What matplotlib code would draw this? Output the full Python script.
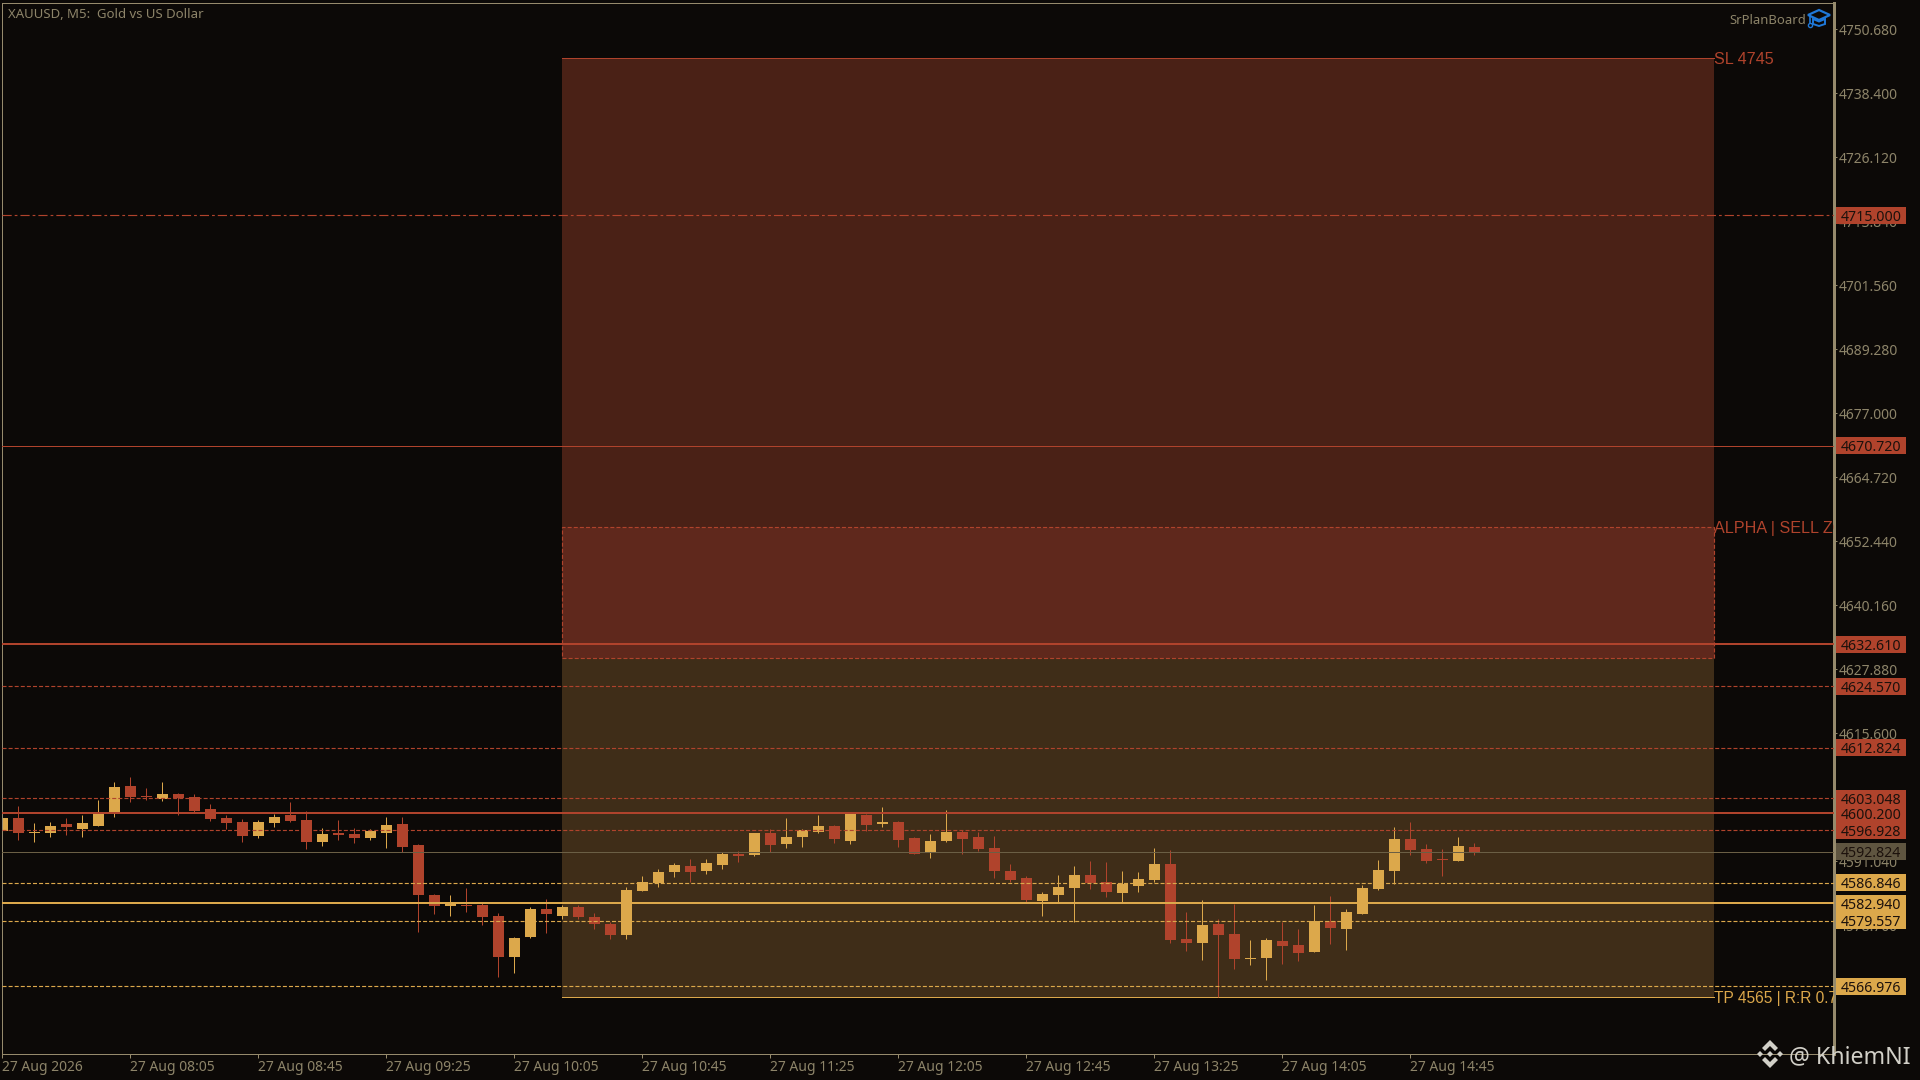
import matplotlib

matplotlib.use("Agg")
import matplotlib.pyplot as plt
from matplotlib.patches import Polygon, Rectangle

BG = "#0c0907"
RED = "#b0432c"
GOLD = "#dca84b"
GREY = "#5f5540"
FRAME = "#968a6c"
TICK_TEXT = "#8d8469"

# candles, oldest first
opens = [
    4596.87, 4599.30, 4596.48, 4596.42, 4598.15, 4597.19, 4597.76, 4600.45, 4605.44, 4603.52,
    4602.94, 4603.90, 4603.33, 4601.02, 4599.30, 4598.53, 4595.84, 4598.34, 4599.87, 4598.91,
    4594.69, 4596.42, 4596.23, 4595.46, 4596.42, 4598.15, 4594.12, 4584.52, 4582.41, 4582.60,
    4582.60, 4580.49, 4572.62, 4576.46, 4581.83, 4580.49, 4582.21, 4580.30, 4578.95, 4576.84,
    4585.29, 4586.82, 4588.93, 4590.08, 4589.12, 4590.28, 4592.39, 4592.20, 4596.42, 4594.31,
    4595.65, 4596.61, 4597.76, 4594.88, 4599.87, 4598.15, 4598.53, 4595.46, 4592.77, 4594.88,
    4596.61, 4595.65, 4593.54, 4589.12, 4587.78, 4583.37, 4584.52, 4585.86, 4588.36, 4587.01,
    4584.90, 4586.25, 4587.40, 4590.47, 4576.07, 4575.30, 4578.95, 4577.03, 4572.23, 4572.43,
    4575.69, 4574.92, 4573.58, 4579.53, 4577.99, 4580.87, 4585.67, 4589.12, 4595.27, 4593.35,
    4591.43, 4591.04, 4593.73,
]
highs = [
    4599.30, 4601.60, 4598.34, 4598.53, 4599.30, 4599.87, 4602.75, 4606.21, 4607.17, 4605.06,
    4606.21, 4604.10, 4603.90, 4601.98, 4599.87, 4599.11, 4598.91, 4600.07, 4602.37, 4600.64,
    4597.38, 4598.91, 4597.38, 4597.19, 4599.49, 4599.49, 4594.31, 4584.71, 4584.52, 4585.86,
    4582.98, 4581.06, 4576.46, 4582.21, 4583.75, 4582.60, 4582.60, 4581.06, 4579.34, 4586.05,
    4588.17, 4589.51, 4590.66, 4591.43, 4591.43, 4592.77, 4592.96, 4596.42, 4597.19, 4599.30,
    4597.19, 4599.87, 4597.95, 4600.07, 4600.07, 4601.41, 4598.72, 4595.65, 4596.23, 4600.83,
    4596.99, 4596.61, 4595.84, 4590.47, 4588.17, 4585.09, 4588.36, 4590.08, 4591.04, 4590.85,
    4589.12, 4588.93, 4593.54, 4593.16, 4581.25, 4583.56, 4579.91, 4582.79, 4575.88, 4576.27,
    4579.34, 4577.99, 4582.60, 4584.33, 4581.83, 4586.44, 4591.24, 4597.57, 4598.53, 4594.31,
    4593.35, 4595.65, 4594.50,
]
lows = [
    4596.87, 4595.07, 4594.69, 4595.65, 4596.03, 4595.65, 4597.76, 4599.49, 4602.37, 4602.75,
    4602.56, 4599.87, 4600.45, 4598.72, 4597.19, 4594.69, 4595.46, 4597.57, 4598.53, 4593.35,
    4593.92, 4595.07, 4594.50, 4595.07, 4593.54, 4592.77, 4577.42, 4580.87, 4580.49, 4581.25,
    4578.76, 4568.78, 4569.55, 4576.27, 4577.22, 4579.91, 4579.91, 4577.99, 4576.07, 4576.07,
    4585.29, 4586.05, 4587.97, 4587.01, 4588.55, 4589.51, 4590.85, 4592.00, 4592.77, 4593.54,
    4593.73, 4596.42, 4594.50, 4594.31, 4596.80, 4597.57, 4593.73, 4592.39, 4591.62, 4594.69,
    4592.39, 4592.96, 4587.78, 4587.01, 4583.17, 4580.49, 4582.98, 4579.34, 4585.67, 4584.13,
    4582.98, 4585.09, 4587.01, 4575.30, 4573.77, 4572.04, 4564.94, 4570.32, 4571.08, 4568.20,
    4571.27, 4571.85, 4573.58, 4575.11, 4573.96, 4580.87, 4585.48, 4586.63, 4592.20, 4590.66,
    4588.17, 4591.04, 4592.20,
]
closes = [
    4599.30, 4596.48, 4596.67, 4597.76, 4597.57, 4598.34, 4600.07, 4605.25, 4603.33, 4603.33,
    4603.90, 4603.07, 4600.64, 4599.11, 4598.34, 4595.84, 4598.53, 4599.49, 4598.72, 4594.69,
    4596.23, 4596.03, 4595.46, 4596.80, 4597.95, 4593.73, 4584.52, 4582.41, 4582.98, 4582.41,
    4580.30, 4572.62, 4576.27, 4581.83, 4580.87, 4582.21, 4580.30, 4578.95, 4576.84, 4585.48,
    4587.01, 4588.93, 4590.28, 4588.93, 4590.66, 4592.39, 4592.00, 4596.42, 4594.12, 4595.65,
    4596.99, 4597.76, 4595.27, 4600.07, 4597.95, 4598.53, 4595.07, 4592.39, 4594.88, 4596.61,
    4595.27, 4593.35, 4589.12, 4587.40, 4583.56, 4584.71, 4586.05, 4588.36, 4586.82, 4585.09,
    4586.63, 4587.59, 4590.47, 4575.88, 4575.30, 4578.76, 4576.84, 4572.23, 4572.43, 4575.88,
    4574.73, 4573.39, 4579.53, 4578.18, 4581.25, 4585.86, 4589.32, 4595.27, 4593.16, 4591.04,
    4591.24, 4593.92, 4592.58,
]

# price scale
y_ticks = [4750.68, 4738.40, 4726.12, 4713.84, 4701.56, 4689.28, 4677.00, 4664.72,
           4652.44, 4640.16, 4627.88, 4615.60, 4603.32, 4591.04, 4578.76]
x_ticks = [0, 8, 16, 24, 32, 40, 48, 56, 64, 72, 80, 88]
x_labels = ["27 Aug 2026", "27 Aug 08:05", "27 Aug 08:45", "27 Aug 09:25", "27 Aug 10:05",
            "27 Aug 10:45", "27 Aug 11:25", "27 Aug 12:05", "27 Aug 12:45", "27 Aug 13:25",
            "27 Aug 14:05", "27 Aug 14:45"]

# horizontal levels
red_levels = [4715.000, 4670.720, 4632.610, 4624.570, 4612.824, 4603.048, 4600.200, 4596.928]
red_styles = ["dashdot", "solid", "solid", "dashed", "dashed", "dashed", "solid", "dashed"]
red_widths = [1, 1, 2, 1, 1, 1, 2, 1]
gold_levels = [4586.846, 4582.940, 4579.557, 4566.976]
gold_styles = ["dashed", "solid", "dashed", "dashed"]
gold_widths = [1, 2, 1, 1]
last_price = 4592.824

# trade plan zones
zone_start, zone_end = 35, 107
sl_price = 4745.2
entry_price = 4630.0
tp_price = 4564.9
sell_zone_top = 4655.1

fig = plt.figure(figsize=(19.2, 10.8), dpi=100, facecolor=BG)
plt.rcParams["font.family"] = ["Noto Sans", "DejaVu Sans"]
ax = fig.add_axes([2.33 / 1920, (1080 - 1053.5) / 1080, (1834 - 2.33) / 1920, 1051 / 1080])
ax.set_facecolor(BG)
ax.set_xlim(0, (1834 - 2.33) / 16)
ax.set_ylim(4554.1, 4755.8)
px = 0.72  # one pixel in points

# zones
ax.add_patch(Rectangle((zone_start, entry_price), zone_end - zone_start, sl_price - entry_price,
                       fc="#4a2116", ec="none", zorder=1))
ax.add_patch(Rectangle((zone_start, tp_price), zone_end - zone_start, entry_price - tp_price,
                       fc="#3f2d18", ec="none", zorder=1))
ax.add_patch(Rectangle((zone_start, entry_price), zone_end - zone_start, sell_zone_top - entry_price,
                       fc="#5f281c", ec=RED, lw=1.15 * px, ls=(0, (3.5, 1.8)), zorder=1.2))
ax.plot([zone_start, zone_end], [sl_price, sl_price], color=RED, lw=px, zorder=1.3)
ax.plot([zone_start, zone_end], [tp_price, tp_price], color=GOLD, lw=px, zorder=1.3)

# candles
xs = list(range(len(opens)))
colors = [GOLD if c >= o else RED for o, c in zip(opens, closes)]
ax.vlines(xs, lows, highs, colors=colors, lw=1.0 * px, zorder=2)
ax.bar(xs, [abs(c - o) for o, c in zip(opens, closes)], bottom=[min(o, c) for o, c in zip(opens, closes)],
       width=11 / 16, color=colors, lw=0, zorder=2.1)

# levels on top of the candles
dash = {"solid": "-", "dashed": (0, (3.5, 1.8)), "dashdot": (0, (8, 2.6, 2.4, 2.6))}
for lvl, st, w in zip(red_levels, red_styles, red_widths):
    ax.axhline(lvl, color=RED, ls=dash[st], lw=(w if w > 1 or st == "solid" else 1.15) * px, zorder=3)
for lvl, st, w in zip(gold_levels, gold_styles, gold_widths):
    ax.axhline(lvl, color=GOLD, ls=dash[st], lw=(w if w > 1 else 1.15) * px, zorder=3)
ax.axhline(last_price, color="#6b5f45", lw=px, zorder=3)

# zone labels, clipped by the frame
ax.text(zone_end, sl_price, "SL 4745", color=RED, family="Liberation Sans", fontsize=11.6,
        va="center_baseline", clip_on=True, zorder=4)
ax.text(zone_end, sell_zone_top, "ALPHA | SELL ZONE", color=RED, family="Liberation Sans", fontsize=11.6,
        va="center_baseline", clip_on=True, zorder=4)
ax.text(zone_end, tp_price, "TP 4565 | R:R 0.7", color=GOLD, family="Liberation Sans", fontsize=11.2,
        va="center_baseline", clip_on=True, zorder=4)

# axes
for side, lw in [("left", 1), ("top", 1), ("bottom", 1), ("right", 3)]:
    ax.spines[side].set_color(FRAME)
    ax.spines[side].set_linewidth(lw * px)
ax.yaxis.tick_right()
ax.set_yticks(y_ticks)
ax.set_yticklabels([f"{v:.3f}" for v in y_ticks])
ax.tick_params(axis="y", length=3 * px, width=px, color=FRAME, labelcolor=TICK_TEXT, labelsize=10, pad=1)
ax.set_xticks(x_ticks)
ax.set_xticklabels(x_labels, ha="left")
ax.tick_params(axis="x", length=4 * px, width=px, color=FRAME, labelcolor=TICK_TEXT, labelsize=10, pad=1.5)

# price tags on the scale
tag_trans = ax.get_yaxis_transform()
tag_x = 1 + 2 / 1832
tag_w = 70 / 1832
tag_h = 17 / 5.21


def price_tag(level, face):
    ax.add_patch(Rectangle((tag_x, level - tag_h / 2), tag_w, tag_h, transform=tag_trans, fc=face, ec="none",
                           clip_on=False, zorder=5))
    ax.text(1 + 7 / 1832, level, f"{level:.3f}", transform=tag_trans, color="#1c110c", fontsize=10.2,
            va="center_baseline", ha="left", clip_on=False, zorder=6)


for lvl in red_levels:
    price_tag(lvl, RED)
price_tag(last_price, GREY)
for lvl in gold_levels:
    price_tag(lvl, GOLD)

# overlay in image pixels for the corner texts and icons
over = fig.add_axes([0, 0, 1, 1], zorder=10)
over.set_xlim(0, 1920)
over.set_ylim(1080, 0)
over.axis("off")
over.patch.set_alpha(0)

over.text(7.5, 13, "XAUUSD, M5:  Gold vs US Dollar", color=TICK_TEXT, fontsize=9.5, va="center_baseline")
over.text(1729, 19, "SrPlanBoard", color=TICK_TEXT, fontsize=9.4, va="center_baseline")

# graduation cap
BLUE = "#1f78d8"
over.add_patch(Polygon([(1808, 15), (1819, 10), (1830, 15), (1819, 20)], fc="none", ec=BLUE, lw=1.6))
over.add_patch(Polygon([(1813, 19), (1813, 24), (1819, 26), (1825, 24), (1825, 19), (1819, 21.5)],
                       fc="none", ec=BLUE, lw=1.4))
over.plot([1809.5, 1809.5], [15, 23], color=BLUE, lw=1.2)
over.plot([1809.5], [24.5], "o", ms=3, mfc="none", mec=BLUE, mew=1)

# watermark
MARK = "#d2d0c8"
cx, cy = 1770, 1054
over.add_patch(Polygon([(cx, cy - 3), (cx + 3, cy), (cx, cy + 3), (cx - 3, cy)], fc=MARK, ec="none"))
over.add_patch(Polygon([(cx - 13, cy), (cx - 10, cy - 3), (cx - 7, cy), (cx - 10, cy + 3)], fc=MARK, ec="none"))
over.add_patch(Polygon([(cx + 13, cy), (cx + 10, cy - 3), (cx + 7, cy), (cx + 10, cy + 3)], fc=MARK, ec="none"))
over.add_patch(Polygon([(cx, cy - 14), (cx + 8, cy - 6), (cx + 5, cy - 3), (cx, cy - 8), (cx - 5, cy - 3),
                        (cx - 8, cy - 6)], fc=MARK, ec="none"))
over.add_patch(Polygon([(cx, cy + 14), (cx + 8, cy + 6), (cx + 5, cy + 3), (cx, cy + 8), (cx - 5, cy + 3),
                        (cx - 8, cy + 6)], fc=MARK, ec="none"))
over.text(1789, 1054, "@ KhiemNI", color=MARK, fontsize=16.7, va="center_baseline")

fig.savefig("out.png", dpi=100, facecolor=BG)
